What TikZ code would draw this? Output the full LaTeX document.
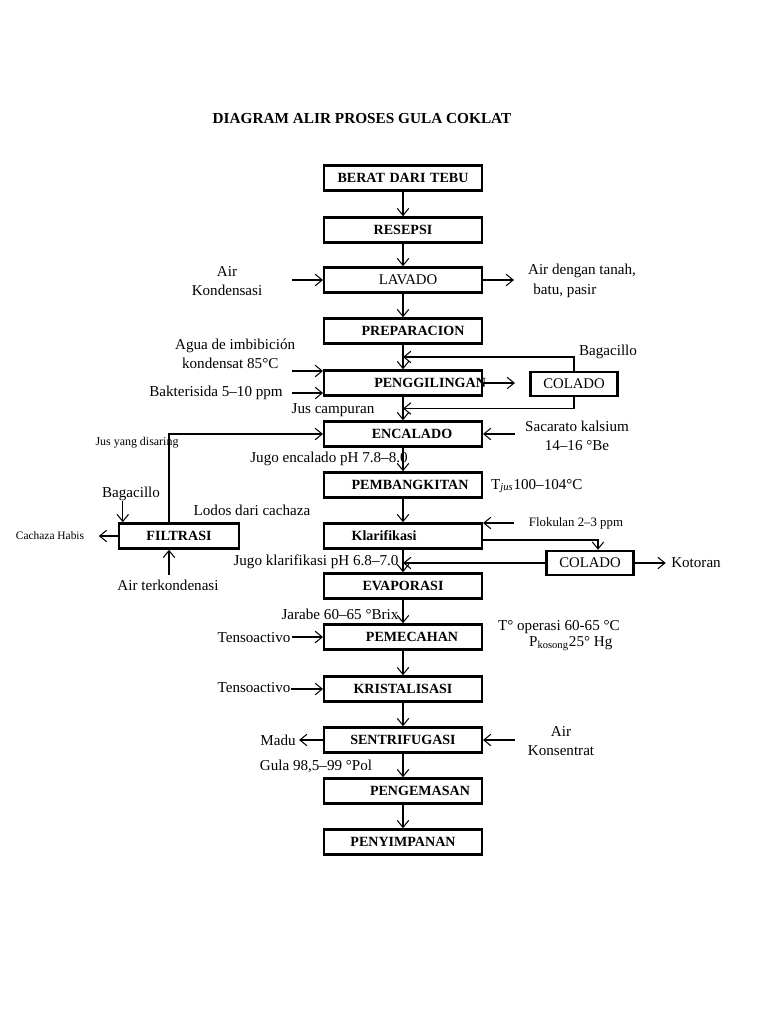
\documentclass[tikz,border=0pt]{standalone}
\usepackage{fontspec}
\setmainfont{Liberation Serif}
\usetikzlibrary{arrows.meta,calc}

\begin{document}
\begin{tikzpicture}[x=0.02cm,y=-0.02cm,
  font=\fontsize{8.6}{11}\selectfont,
  box/.style={draw,line width=1.4pt,minimum height=0.5cm,text width=2.95cm,align=center,inner sep=0.1cm,font=\fontsize{8}{10}\selectfont\bfseries},
  plainbox/.style={box,font=\fontsize{8.4}{10}\selectfont},
  colbox/.style={plainbox,text width=1.54cm,minimum height=0.48cm},
  arr/.style={-{Straight Barb[length=4pt,width=6.5pt]},line width=0.6pt},
  lbl/.style={inner sep=1pt,align=center},
  small/.style={lbl,font=\fontsize{6.8}{8}\selectfont}]
\useasboundingbox (0,0) rectangle (768,1024);

\node[font=\fontsize{8.7}{10}\selectfont\bfseries] (judul) at (362,119) {DIAGRAM ALIR PROSES GULA COKLAT};

\node[box] (berat) at (403,178) {BERAT DARI TEBU};
\node[box] (resepsi) at (403,230) {RESEPSI};
\node[plainbox] (lavado) at (403,280) {\hspace*{0.2cm}LAVADO};
\node[box] (prep) at (403,331) {\hspace*{0.4cm}PREPARACION};
\node[box] (giling) at (403,383) {\hspace*{0.9cm}\mbox{PENGGILINGAN}};
\node[box] (encalado) at (403,434) {\hspace*{0.36cm}ENCALADO};
\node[box] (bangkit) at (403,485) {\hspace*{0.28cm}PEMBANGKITAN};
\node[box] (klarif) at (403,536) {Klarifikasi\hspace*{0.76cm}\null};
\node[box] (evap) at (403,586) {EVAPORASI};
\node[box] (pecah) at (403,637) {\hspace*{0.36cm}PEMECAHAN};
\node[box] (kristal) at (403,689) {KRISTALISASI};
\node[box] (sentri) at (403,740) {SENTRIFUGASI};
\node[box] (kemas) at (403,791) {\hspace*{0.68cm}PENGEMASAN};
\node[box] (simpan) at (403,842) {PENYIMPANAN};

\node[colbox] (colado) at (574,384) {COLADO};
\node[colbox] (colado2) at (590,563) {COLADO};
\node[box,text width=2.2cm] (filtrasi) at (179,536) {FILTRASI};

\draw[arr] (berat) -- (resepsi);
\draw[arr] (resepsi) -- (lavado);
\draw[arr] (lavado) -- (prep);
\draw[arr] (prep) -- (giling);
\draw[arr] (giling) -- (encalado);
\draw[arr] (encalado) -- (bangkit);
\draw[arr] (bangkit) -- (klarif);
\draw[arr] (klarif) -- (evap);
\draw[arr] (evap) -- (pecah);
\draw[arr] (pecah) -- (kristal);
\draw[arr] (kristal) -- (sentri);
\draw[arr] (sentri) -- (kemas);
\draw[arr] (kemas) -- (simpan);

\node[lbl] (airkond) at (227,281) {Air\\Kondensasi};
\draw[arr] (lavado.west) ++(-31,0) -- (lavado.west);
\node[lbl,align=left,anchor=west] (lumpur) at (526,281) {Air dengan tanah,\\\hspace*{3pt}batu, pasir};
\draw[arr] (lavado.east) -- ++(31,0);

\node[lbl,align=left,anchor=west] (agua) at (173,354) {Agua de imbibición\\\hspace*{4pt}kondensat 85°C};
\draw[arr] (giling.west) ++(-31,-12) -- ++(31,0);
\node[lbl] (bakteri) at (216,393) {Bakterisida 5–10 ppm};
\draw[arr] (giling.west) ++(-31,10) -- ++(31,0);

\draw[arr] (giling.east) -- ++(32,0);
\coordinate (bagin) at ($(prep.south)!0.5!(giling.north)$);
\draw[arr] (colado.north) |- (bagin);
\node[lbl] (bagacillo) at (608,352) {Bagacillo};
\coordinate (jusin) at ($(giling.south)!0.5!(encalado.north)$);
\draw[arr] (colado.south) |- (jusin);
\node[lbl] (juscamp) at (333,410) {Jus campuran};

\node[lbl] (sacarato) at (577,436) {Sacarato kalsium\\14–16 °Be};
\draw[arr] (encalado.east) ++(32,0) -- (encalado.east);
\node[lbl] (jugoenc) at (329,459) {Jugo encalado pH 7.8–8.0};
\node[lbl,anchor=west] (tjus) at (489,486) {T\textsubscript{\textit{jus}}100–104°C};

\draw[arr] ([xshift=-0.2cm]filtrasi.north) |- (encalado.west);
\node[small] (disaring) at (137,443) {Jus yang disaring};
\node[lbl] (lodos) at (252,510) {Lodos dari cachaza};
\node[lbl] (bagfil) at (131,494) {Bagacillo};
\draw[arr] ([xshift=0.1cm]filtrasi.north west) ++(0,-21) -- ([xshift=0.1cm]filtrasi.north west);
\node[small,font=\fontsize{6.5}{8}\selectfont] (cachaza) at (50,536) {Cachaza Habis};
\draw[arr] (filtrasi.west) -- ++(-19,0);
\node[lbl] (airterk) at (168,585) {Air terkondenasi};
\draw[arr] ([xshift=-0.2cm]filtrasi.south) ++(0,25) -- ([xshift=-0.2cm]filtrasi.south);

\node[small,font=\fontsize{7.3}{8}\selectfont] (flokulan) at (576,523) {Flokulan 2–3 ppm};
\draw[arr] ([yshift=0.26cm]klarif.east) ++(31,0) -- ++(-31,0);
\draw[arr] ([yshift=-0.08cm]klarif.east) -| ([xshift=0.16cm]colado2.north);
\draw[arr] (colado2.east) -- ++(31,0);
\node[lbl] (kotoran) at (696,563) {Kotoran};
\draw[arr] (colado2.west) -- (colado2.west -| evap);
\node[lbl] (jugoklar) at (316,562) {Jugo klarifikasi pH 6.8–7.0};

\node[lbl] (jarabe) at (340,614) {Jarabe 60–65 °Brix};
\node[lbl,anchor=west] (toperasi) at (496,627) {T° operasi 60-65 °C};
\node[lbl,anchor=west] (pkosong) at (527,644) {P\textsubscript{kosong}25° Hg};
\node[lbl] (tenso1) at (254,638) {Tensoactivo};
\draw[arr] (pecah.west) ++(-31,0) -- (pecah.west);
\node[lbl] (tenso2) at (254,688) {Tensoactivo};
\draw[arr] (kristal.west) ++(-32,0) -- (kristal.west);

\node[lbl] (madu) at (278,740) {Madu};
\draw[arr] (sentri.west) -- ++(-24,0);
\node[lbl] (airkons) at (561,741) {Air\\Konsentrat};
\draw[arr] (sentri.east) ++(32,0) -- (sentri.east);
\node[lbl] (gula) at (316,766) {Gula 98,5–99 °Pol};
\end{tikzpicture}
\end{document}
